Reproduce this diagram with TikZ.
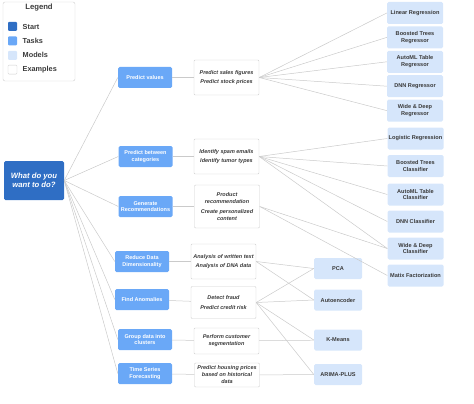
\documentclass[tikz,border=0pt]{standalone}
\usepackage{fontspec}
\setmainfont{Liberation Sans}
\usepackage{xcolor}
\usetikzlibrary{positioning}
\definecolor{startblue}{HTML}{2F6EC4}
\definecolor{taskblue}{HTML}{6AA8F7}
\definecolor{modelblue}{HTML}{D6E6FB}
\definecolor{edgegray}{HTML}{CACACA}
\definecolor{boxgray}{HTML}{CFCFCF}
\definecolor{inkgray}{HTML}{3A3A3A}

\begin{document}
\begin{tikzpicture}[x=1pt,y=-1pt,
  startbox/.style={fill=startblue,rounded corners=1.5pt,minimum width=60pt,minimum height=39pt,align=center,text=white,font=\fontsize{7.7}{9.2}\selectfont\bfseries\itshape},
  taskbox/.style={fill=taskblue,rounded corners=1.5pt,minimum width=54pt,minimum height=21pt,inner sep=1pt,align=center,text=white,font=\fontsize{5.5}{6.6}\selectfont\bfseries},
  examplebox/.style={draw=boxgray,fill=white,rounded corners=1pt,minimum width=65pt,inner sep=1.5pt,align=center,text=inkgray,font=\fontsize{5.5}{7}\selectfont\bfseries\itshape},
  modelbox/.style={fill=modelblue,rounded corners=1.5pt,minimum width=56pt,minimum height=22pt,inner sep=1pt,align=center,text=inkgray,font=\fontsize{5.6}{6.8}\selectfont\bfseries},
  keybox/.style={rounded corners=1pt,minimum size=9pt,inner sep=0pt},
  keytext/.style={anchor=west,text=inkgray,font=\fontsize{7.3}{8}\selectfont\bfseries},
  ln/.style={draw=edgegray,line width=0.5pt}]
\useasboundingbox (0,0) rectangle (474,404);

% legend
\node[draw=boxgray,rounded corners=2pt,minimum width=72pt,minimum height=79pt] (legend) at (39,41.5) {};
\node[text=inkgray,font=\fontsize{7.7}{9}\selectfont\bfseries] (legendtitle) at (39,7.5) {Legend};
\node[keybox,fill=startblue] (kstart) at (12.5,26.5) {};
\node[keybox,fill=taskblue,below=5pt of kstart] (ktask) {};
\node[keybox,fill=modelblue,below=5pt of ktask] (kmodel) {};
\node[keybox,draw=boxgray,fill=white,below=5pt of kmodel] (kexample) {};
\node[keytext,right=2pt of kstart] {Start};
\node[keytext,right=2pt of ktask] {Tasks};
\node[keytext,right=2pt of kmodel] {Models};
\node[keytext,right=2pt of kexample] {Examples};

% start
\node[startbox] (start) at (34,180.5) {What do you\\want to do?};

% tasks
\node[taskbox] (values) at (145,77.5) {Predict values};
\node[taskbox] (classes) at (145.5,156.5) {Predict between\\categories};
\node[taskbox] (recommend) at (145.5,206.5) {Generate\\Recommendations};
\node[taskbox] (reduce) at (142,261.5) {Reduce Data\\Dimensionality};
\node[taskbox] (anomaly) at (142,299.5) {Find Anomalies};
\node[taskbox] (cluster) at (145,339.5) {Group data into\\clusters};
\node[taskbox] (forecast) at (145,373.5) {Time Series\\Forecasting};

% examples
\node[examplebox,minimum height=35pt] (exvalues) at (226.5,77.5) {Predict sales figures\\[2.5pt]Predict stock prices};
\node[examplebox,minimum height=35pt] (exclasses) at (226.5,156.5) {Identify spam emails\\[2.5pt]Identify tumor types};
\node[examplebox,minimum height=43pt] (exrecommend) at (227,206.5) {Product\\recommendation\\[2.5pt]Create personalized\\content};
\node[examplebox,minimum height=35pt] (exreduce) at (223.5,261.5) {Analysis of written text\\[2.5pt]Analysis of DNA data};
\node[examplebox,minimum height=32pt] (exanomaly) at (223.5,302.5) {Detect fraud\\[2.5pt]Predict credit risk};
\node[examplebox,minimum height=26pt] (excluster) at (226.5,341) {Perform customer\\segmentation};
\node[examplebox,minimum height=24pt] (exforecast) at (227,375) {Predict housing prices\\based on historical\\data};

% models
\node[modelbox] (linreg) at (415,13) {Linear Regression};
\node[modelbox,below=2pt of linreg] (btreg) {Boosted Trees\\Regressor};
\node[modelbox,below=2pt of btreg] (automlreg) {AutoML Table\\Regressor};
\node[modelbox,below=2pt of automlreg] (dnnreg) {DNN Regressor};
\node[modelbox,below=2pt of dnnreg] (wdreg) {Wide \& Deep\\Regressor};
\node[modelbox] (logreg) at (415.5,138.5) {Logistic Regression};
\node[modelbox] (btclass) at (415.5,166) {Boosted Trees\\Classifier};
\node[modelbox] (automlclass) at (415.5,194.5) {AutoML Table\\Classifier};
\node[modelbox] (dnnclass) at (415.5,221.5) {DNN Classifier};
\node[modelbox] (wdclass) at (415.5,248.5) {Wide \& Deep\\Classifier};
\node[modelbox] (matfact) at (415.5,275.5) {Matix Factorization};
\node[modelbox,minimum width=48pt,minimum height=21pt] (pca) at (338,268.5) {PCA};
\node[modelbox,minimum width=48pt,minimum height=21pt] (autoenc) at (338,300) {Autoencoder};
\node[modelbox,minimum width=48pt,minimum height=21pt] (kmeans) at (338,340) {K-Means};
\node[modelbox,minimum width=48pt,minimum height=21pt] (arima) at (338,374.5) {ARIMA-PLUS};

% start to tasks
\foreach \t in {values,classes,recommend,reduce,anomaly,cluster,forecast}
  \draw[ln] (start.east) -- (\t.west);
% tasks to examples
\draw[ln] (values) -- (exvalues);
\draw[ln] (classes) -- (exclasses);
\draw[ln] (recommend) -- (exrecommend);
\draw[ln] (reduce) -- (exreduce);
\draw[ln] (anomaly) -- (exanomaly);
\draw[ln] (cluster) -- (excluster);
\draw[ln] (forecast) -- (exforecast);
% examples to models
\foreach \m in {linreg,btreg,automlreg,dnnreg,wdreg}
  \draw[ln] (exvalues.east) -- (\m.west);
\foreach \m in {logreg,btclass,automlclass,dnnclass,wdclass}
  \draw[ln] (exclasses.east) -- (\m.west);
\foreach \m in {wdclass,matfact}
  \draw[ln] (exrecommend.east) -- (\m.west);
\foreach \m in {pca,autoenc}
  \draw[ln] (exreduce.east) -- (\m.west);
\foreach \m in {pca,autoenc,kmeans,arima}
  \draw[ln] (exanomaly.east) -- (\m.west);
\draw[ln] (excluster) -- (kmeans);
\draw[ln] (exforecast) -- (arima);
\end{tikzpicture}
\end{document}
